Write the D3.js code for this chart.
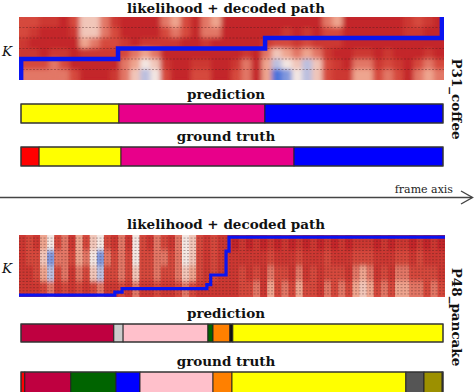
<!DOCTYPE html>
<html><head><meta charset="utf-8">
<script src="https://cdn.jsdelivr.net/npm/d3@7"></script>
<style>body{margin:0;background:#fff}svg{display:block}</style>
</head><body><svg id="c" width="474" height="392"></svg>
<script>
// ---------------- DATA ----------------
// per-mille of the video length is used as the frame unit (0..1000)
const frameDomain = [0, 1000];

// P31_coffee likelihood: one string per frame column, digits = rows top->bottom (0 low .. 9 high)
const coffeeHeat = [
 "778876","789876","899976","899866","999876","789997","445899","446899","667899","877898",
 "998766","999654","998532","998643","678987","568999","779999","999987","668987","569999",
 "999999","999987","999866","999999","998655","997420","987531","998643","987522","998644",
 "678877","578988","999998","999865","999865","999987","999876","999987","889999","789976",
 "899865","999976"
];
const coffeeK = 6;
// decoded path: [frame, state level]
const coffeePath = [[5,0],[5,2],[233,2],[233,3],[579,3],[579,4],[995,4],[995,6]];
const coffeePred = [["take_cup",0,232],["pour_coffee",232,578],["pour_milk",578,1000]];
const coffeeGT = [["SIL",0,43],["take_cup",43,237],["pour_coffee",237,647],["pour_milk",647,1000]];

// P48_pancake likelihood: one string per frame column, digits = row bands top->bottom
const pancakeHeat = [
 "8888","7788","8778","5457","3126","7678","6667","8788","5567","7678",
 "4347","3126","7678","8778","6667","8778","3346","7778","8778","6667",
 "7678","8778","6667","3346","4457","7778","8888","7778","8888","8888",
 "9888","8877","9887","8876","9888","8765","9877","8876","9887","8765",
 "9887","8877","9888","8776","9877","8876","9887","8765","8754","8765",
 "9887","8876","9887","8765","8765","9876","8776","9877","8876","9887"
];
const pancakeK = 20;
const pancakePath = [[0,0.6],[225,0.6],[225,1.6],[242,1.6],[242,2.7],[441,2.7],[441,4],[450,4],
  [450,7.1],[486,7.1],[486,14.8],[493,14.8],[493,19.3],[1000,19.3]];
const pancakePred = [["take_eggs",0,220],["spoon_flour",220,242],["stir_dough",242,443],["crack_egg",443,455],
  ["pour_dough2pan",455,495],["pour_flour",495,502],["fry_pancake",502,1000]];
const pancakeGT = [["SIL",0,9],["take_eggs",9,118],["crack_egg",118,225],["pour_milk",225,282],["stir_dough",282,455],
  ["pour_dough2pan",455,500],["fry_pancake",500,912],["take_plate",912,955],["put_pancake2plate",955,998],["SIL2",998,1000]];

const titles = {lik:"likelihood + decoded path", pred:"prediction", gt:"ground truth", axis:"frame axis", k:"K"};
const videos = ["P31_coffee","P48_pancake"];

// ---------------- STYLE ----------------
const actionColor = {
  SIL:"#ff0000", SIL2:"#8a8a8a", take_cup:"#ffff00", pour_coffee:"#e8008a", pour_milk:"#0000ff",
  take_eggs:"#bf0040", spoon_flour:"#cccccc", stir_dough:"#ffc0cb", crack_egg:"#006400",
  pour_dough2pan:"#ff8000", pour_flour:"#111111", fry_pancake:"#ffff00", take_plate:"#555555",
  put_pancake2plate:"#9c9000"
};
const heatColor = d3.scaleLinear().domain([0,3,5,7,9])
  .range(["#4a72da","#f3e6e2","#eea58f","#d5493c","#c3252a"]);
const serif = "'DejaVu Serif', serif";

const svg = d3.select("#c");
const defs = svg.append("defs");

function blurFilter(id, sx, sy){
  const f = defs.append("filter").attr("id", id).attr("x","-5%").attr("y","-20%").attr("width","110%").attr("height","140%");
  f.append("feGaussianBlur").attr("stdDeviation", sx+" "+sy).attr("result","b");
  f.append("feComponentTransfer").append("feFuncA").attr("type","table").attr("tableValues","1 1");
}
blurFilter("blurTop", 2.8, 2.2);
blurFilter("blurBot", 0.6, 2.0);

function panel(cfg){
  const {heat, K, path, pred, gt, hx0, hx1, hy0, hy1, bx0, bx1, predY, gtY, barH, gtH,
         titleY, predTitleY, gtTitleY, kY, filterId, pathW, label, labelY} = cfg;
  const nCols = heat.length, nBands = heat[0].length;
  const xCol = d3.scaleLinear().domain([0,nCols]).range([hx0,hx1]);
  const yBand = d3.scaleLinear().domain([0,nBands]).range([hy0,hy1]);
  const xF = d3.scaleLinear().domain(frameDomain).range([hx0,hx1]);
  const yK = d3.scaleLinear().domain([0,K]).range([hy1,hy0]);
  const xB = d3.scaleLinear().domain(frameDomain).range([bx0,bx1]);

  const clipId = "clip"+filterId;
  defs.append("clipPath").attr("id",clipId).append("rect")
    .attr("x",hx0).attr("y",hy0).attr("width",hx1-hx0).attr("height",hy1-hy0);

  const cells = [];
  heat.forEach((s,i)=>{ for(let j=0;j<s.length;j++) cells.push({i,j,v:+s[j]}); });
  const g = svg.append("g").attr("clip-path","url(#"+clipId+")");
  g.append("g").attr("filter","url(#"+filterId+")")
    .selectAll("rect").data(cells).join("rect")
    .attr("x",d=>xCol(d.i)-0.3).attr("y",d=>yBand(d.j)-0.3)
    .attr("width",d=>xCol(d.i+1)-xCol(d.i)+0.6).attr("height",d=>yBand(d.j+1)-yBand(d.j)+0.6)
    .attr("fill",d=>heatColor(d.v));
  // dashed state lines
  g.append("g").selectAll("line").data(d3.range(1,K)).join("line")
    .attr("x1",hx0).attr("x2",hx1).attr("y1",d=>yK(d)).attr("y2",d=>yK(d))
    .attr("stroke","#3a1a1a").attr("stroke-opacity",0.6).attr("stroke-width",0.6)
    .attr("stroke-dasharray","2,1.5");
  // decoded path
  svg.append("path").datum(path)
    .attr("d", d3.line().x(d=>xF(d[0])).y(d=>yK(d[1])))
    .attr("fill","none").attr("stroke","#0a14f0").attr("stroke-width",pathW)
    .attr("stroke-linejoin","miter").attr("stroke-linecap","square")
    .attr("clip-path","url(#"+clipId+")");

  // bars
  function bar(segs, y, h){
    const bg = svg.append("g");
    bg.selectAll("rect").data(segs).join("rect")
      .attr("x",d=>xB(d[1])).attr("y",y).attr("width",d=>xB(d[2])-xB(d[1])).attr("height",h)
      .attr("fill",d=>actionColor[d[0]]).attr("stroke","#222").attr("stroke-width",0.9);
    bg.append("rect").attr("x",xB(0)).attr("y",y).attr("width",xB(1000)-xB(0)).attr("height",h)
      .attr("fill","none").attr("stroke","#3a3a3a").attr("stroke-width",1.1);
  }
  bar(pred, predY, barH);
  bar(gt, gtY, gtH);

  // texts
  const tx = 226;
  const T = (t,x,y,anchor,size,weight,style)=>svg.append("text").attr("x",x).attr("y",y)
     .attr("text-anchor",anchor).attr("font-family",serif).attr("font-size",size)
     .attr("font-weight",weight).attr("font-style",style||"normal").attr("fill","#111").text(t);
  T(titles.lik, tx, titleY, "middle", 13.5, "bold");
  T(titles.pred, tx, predTitleY, "middle", 13.5, "bold");
  T(titles.gt, tx, gtTitleY, "middle", 13.5, "bold");
  T(titles.k, 2, kY, "start", 13.5, "normal", "italic");
  svg.append("text").attr("transform","translate(452,"+labelY+") rotate(90)")
    .attr("text-anchor","middle").attr("font-family",serif).attr("font-size",13.5)
    .attr("font-weight","bold").attr("fill","#111").text(label);
}

panel({heat:coffeeHeat, K:coffeeK, path:coffeePath, pred:coffeePred, gt:coffeeGT,
  hx0:19, hx1:444, hy0:17, hy1:80, bx0:21, bx1:443, predY:104, gtY:147, barH:19, gtH:19,
  titleY:13, predTitleY:99, gtTitleY:141, kY:56, filterId:"blurTop", pathW:4.5,
  label:videos[0], labelY:99});
panel({heat:pancakeHeat, K:pancakeK, path:pancakePath, pred:pancakePred, gt:pancakeGT,
  hx0:19, hx1:445, hy0:235, hy1:297, bx0:21, bx1:443, predY:324, gtY:372, barH:18, gtH:22,
  titleY:229, predTitleY:318, gtTitleY:366, kY:273, filterId:"blurBot", pathW:3.2,
  label:videos[1], labelY:317});

// frame axis arrow
svg.append("line").attr("x1",0).attr("x2",472).attr("y1",197.5).attr("y2",197.5)
  .attr("stroke","#444").attr("stroke-width",1.6);
svg.append("path").attr("d","M461,191 L472.5,197.5 L461,204")
  .attr("fill","none").attr("stroke","#444").attr("stroke-width",1.4);
svg.append("text").attr("x",453).attr("y",192.5).attr("text-anchor","end")
  .attr("font-family",serif).attr("font-size",11).attr("fill","#222").text(titles.axis);
</script></body></html>
